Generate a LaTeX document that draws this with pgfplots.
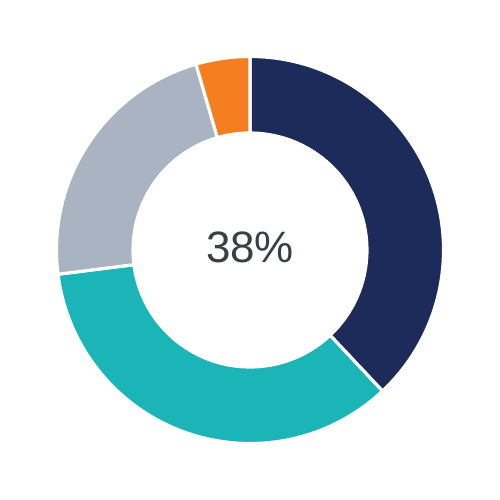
\documentclass[border=0pt]{standalone}
\usepackage{pgfplots}
\pgfplotsset{compat=1.18}
\usepackage{pgfplotstable}
\usepackage{fontspec}
\setmainfont{Liberation Sans}
\definecolor{cNavy}{HTML}{1C2B5A}
\definecolor{cTeal}{HTML}{1BB5B8}
\definecolor{cGray}{HTML}{A9B3C1}
\definecolor{cOrange}{HTML}{F47E20}
\definecolor{cText}{HTML}{3A3F44}
\pgfplotstableread{
label value col
Navy 38 cNavy
Teal 35 cTeal
Gray 22.5 cGray
Orange 4.5 cOrange
}\donutdata
\begin{document}
\begin{tikzpicture}
\begin{axis}[hide axis, x=1cm, y=1cm, xmin=-2.5, xmax=2.5, ymin=-2.5, ymax=2.5,
  disabledatascaling, clip=false]
\path (axis cs:-2.5,-2.5) rectangle (axis cs:2.5,2.5);
\pgfplotsextra{
  \pgfplotstablegetrowsof{\donutdata}
  \pgfmathtruncatemacro{\nrows}{\pgfplotsretval-1}
  \gdef\cumstart{90}
  \foreach \i in {0,...,\nrows}{
    \pgfplotstablegetelem{\i}{value}\of{\donutdata}
    \let\segval\pgfplotsretval
    \pgfplotstablegetelem{\i}{col}\of{\donutdata}
    \let\segcol\pgfplotsretval
    \pgfmathsetmacro{\sa}{\cumstart}
    \pgfmathsetmacro{\sb}{\cumstart-3.6*\segval}
    \fill[\segcol, draw=white, line width=0.9pt]
      (axis cs:{1.935*cos(\sa)},{1.935*sin(\sa)}) arc[start angle=\sa, end angle=\sb, radius=1.935]
      -- (axis cs:{1.17*cos(\sb)},{1.17*sin(\sb)}) arc[start angle=\sb, end angle=\sa, radius=1.17]
      -- cycle;
    \xdef\cumstart{\sb}
  }
}
\node[text=cText, inner sep=0pt] at (axis cs:0,0.03) {\fontsize{12.5}{14}\selectfont 38\%};
\end{axis}
\end{tikzpicture}
\end{document}
